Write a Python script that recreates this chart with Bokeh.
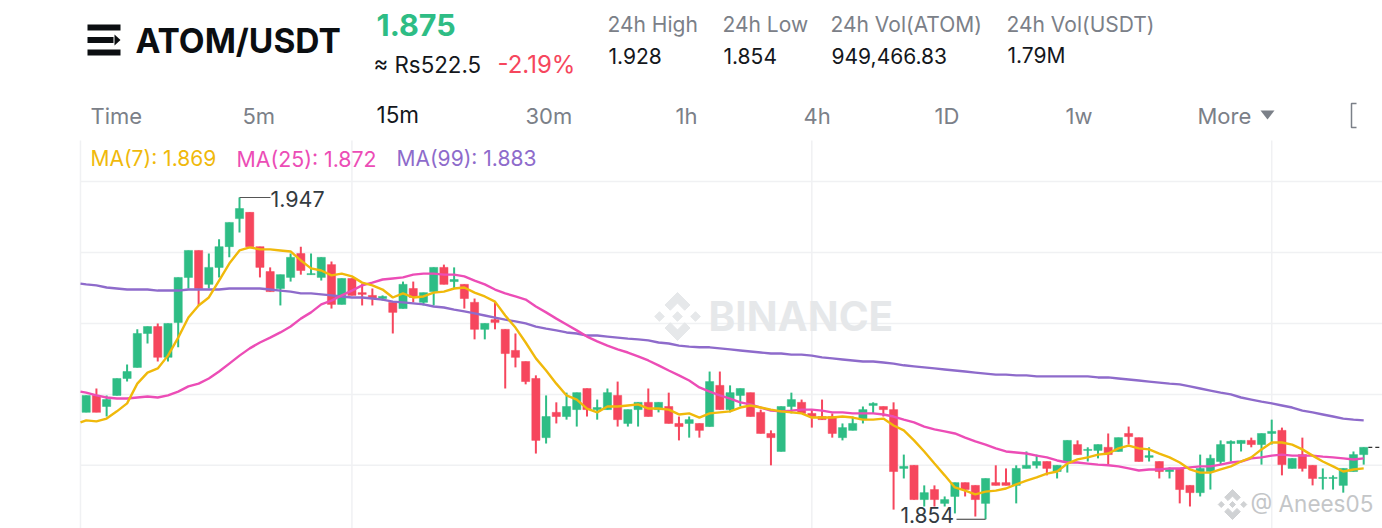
from bokeh.plotting import figure
from bokeh.models import ColumnDataSource, Label, Range1d
from bokeh.embed import file_html
from bokeh.resources import INLINE

# ---------- data ----------
opens = [1.8849,1.8898,1.8866,1.8898,1.8947,1.8979,1.9077,1.9097,1.9008,1.9109,
1.9239,1.9317,1.9219,1.9268,1.9328,1.9409,1.9427,1.9328,1.9256,1.9207,
1.9239,1.9308,1.9247,1.9239,1.9276,1.9161,1.9236,1.9195,1.9187,1.9178,
1.9167,1.9149,1.9207,1.9167,1.9198,1.9268,1.9227,1.9219,1.9167,1.9089,
1.9117,1.9089,1.9028,1.8996,1.8947,1.8776,1.8849,1.8837,1.8857,1.8918,
1.8857,1.8857,1.8898,1.8817,1.8857,1.8878,1.8857,1.8866,1.8817,1.8817,
1.8817,1.8808,1.8927,1.8857,1.8898,1.8906,1.8849,1.8788,1.8736,1.8866,
1.8878,1.8846,1.8837,1.8837,1.8776,1.8797,1.8828,1.8869,1.8866,1.8857,
1.8687,1.8696,1.8597,1.8626,1.8586,1.8606,1.8646,1.8638,1.8586,1.8646,
1.8646,1.8638,1.8687,1.8696,1.8707,1.8678,1.8707,1.8756,1.8739,1.8739,
1.8748,1.8736,1.8788,1.8776,1.8719,1.8707,1.8678,1.8687,1.8638,1.8617,
1.8678,1.8707,1.8759,1.8759,1.8768,1.8756,1.8788,1.8797,1.8687,1.8727,
1.8696,1.8658,1.8658,1.8638,1.8678,1.8727]
highs = [1.8898,1.8918,1.8898,1.8947,1.8987,1.9089,1.9097,1.9106,1.9106,1.9239,
1.9317,1.9317,1.9308,1.9349,1.9398,1.9470,1.9427,1.9328,1.9268,1.9247,
1.9308,1.9328,1.9308,1.9297,1.9285,1.9236,1.9236,1.9221,1.9207,1.9187,
1.9167,1.9227,1.9227,1.9195,1.9268,1.9276,1.9268,1.9219,1.9178,1.9106,
1.9167,1.9089,1.9077,1.8996,1.8956,1.8898,1.8878,1.8906,1.8906,1.8918,
1.8886,1.8918,1.8938,1.8857,1.8878,1.8918,1.8878,1.8906,1.8837,1.8837,
1.8817,1.8967,1.8967,1.8927,1.8918,1.8906,1.8857,1.8797,1.8866,1.8906,
1.8886,1.8857,1.8886,1.8846,1.8817,1.8837,1.8866,1.8878,1.8866,1.8878,
1.8727,1.8696,1.8638,1.8638,1.8606,1.8646,1.8646,1.8638,1.8658,1.8696,
1.8687,1.8696,1.8736,1.8727,1.8707,1.8696,1.8768,1.8768,1.8748,1.8756,
1.8788,1.8776,1.8808,1.8776,1.8748,1.8707,1.8690,1.8687,1.8638,1.8727,
1.8727,1.8768,1.8768,1.8768,1.8776,1.8788,1.8828,1.8805,1.8716,1.8776,
1.8696,1.8687,1.8667,1.8687,1.8736,1.8748]
lows = [1.8849,1.8849,1.8837,1.8898,1.8938,1.8979,1.9048,1.8996,1.8996,1.9037,
1.9207,1.9158,1.9207,1.9239,1.9297,1.9369,1.9328,1.9239,1.9198,1.9158,
1.9227,1.9247,1.9247,1.9230,1.9149,1.9161,1.9187,1.9158,1.9158,1.9172,
1.9077,1.9149,1.9167,1.9158,1.9158,1.9219,1.9207,1.9149,1.9060,1.9060,
1.9089,1.8918,1.8979,1.8930,1.8730,1.8759,1.8817,1.8828,1.8808,1.8837,
1.8828,1.8857,1.8808,1.8808,1.8808,1.8837,1.8849,1.8817,1.8768,1.8776,
1.8776,1.8808,1.8857,1.8849,1.8866,1.8837,1.8788,1.8696,1.8736,1.8846,
1.8846,1.8805,1.8828,1.8776,1.8768,1.8797,1.8817,1.8846,1.8837,1.8568,
1.8658,1.8597,1.8577,1.8577,1.8577,1.8557,1.8606,1.8548,1.8540,1.8638,
1.8638,1.8586,1.8687,1.8687,1.8667,1.8658,1.8675,1.8727,1.8707,1.8716,
1.8698,1.8736,1.8756,1.8707,1.8707,1.8658,1.8658,1.8586,1.8577,1.8606,
1.8626,1.8698,1.8707,1.8736,1.8748,1.8698,1.8756,1.8667,1.8687,1.8678,
1.8638,1.8626,1.8626,1.8617,1.8678,1.8698]
closes = [1.8898,1.8849,1.8886,1.8947,1.8967,1.9077,1.9097,1.9008,1.9106,1.9239,
1.9317,1.9207,1.9268,1.9328,1.9398,1.9438,1.9328,1.9268,1.9198,1.9247,
1.9297,1.9259,1.9250,1.9297,1.9161,1.9236,1.9187,1.9190,1.9178,1.9184,
1.9138,1.9219,1.9181,1.9195,1.9268,1.9219,1.9233,1.9178,1.9089,1.9106,
1.9109,1.9019,1.9008,1.8938,1.8768,1.8837,1.8837,1.8866,1.8906,1.8857,
1.8863,1.8906,1.8828,1.8857,1.8878,1.8837,1.8878,1.8817,1.8808,1.8828,
1.8797,1.8938,1.8857,1.8906,1.8918,1.8837,1.8788,1.8776,1.8866,1.8886,
1.8846,1.8837,1.8828,1.8788,1.8805,1.8817,1.8857,1.8875,1.8857,1.8678,
1.8693,1.8597,1.8617,1.8597,1.8597,1.8646,1.8626,1.8597,1.8658,1.8638,
1.8638,1.8687,1.8696,1.8707,1.8687,1.8696,1.8768,1.8727,1.8742,1.8756,
1.8727,1.8776,1.8779,1.8707,1.8724,1.8678,1.8684,1.8626,1.8617,1.8687,
1.8716,1.8756,1.8765,1.8768,1.8756,1.8788,1.8794,1.8698,1.8716,1.8687,
1.8658,1.8661,1.8661,1.8687,1.8727,1.8748]

ma7 = [1.8820,1.8826,1.8823,1.8831,1.8852,1.8875,1.8932,1.8964,1.8976,1.9013,1.9065,
1.9123,1.9158,1.9181,1.9230,1.9279,1.9317,1.9326,1.9320,1.9320,1.9317,
1.9314,1.9288,1.9265,1.9259,1.9245,1.9250,1.9242,1.9224,1.9216,1.9204,
1.9181,1.9193,1.9181,1.9184,1.9195,1.9198,1.9207,1.9210,1.9195,1.9184,
1.9169,1.9129,1.9094,1.9051,1.9005,1.8970,1.8932,1.8898,1.8886,1.8860,
1.8849,1.8866,1.8866,1.8869,1.8872,1.8860,1.8860,1.8857,1.8843,1.8846,
1.8834,1.8846,1.8849,1.8852,1.8863,1.8869,1.8863,1.8857,1.8852,1.8849,
1.8846,1.8834,1.8834,1.8834,1.8837,1.8834,1.8828,1.8828,1.8831,1.8811,
1.8797,1.8768,1.8736,1.8701,1.8667,1.8632,1.8623,1.8612,1.8620,1.8623,
1.8629,1.8641,1.8652,1.8661,1.8672,1.8678,1.8701,1.8713,1.8719,1.8727,
1.8730,1.8745,1.8753,1.8745,1.8742,1.8730,1.8719,1.8704,1.8684,1.8675,
1.8675,1.8684,1.8693,1.8707,1.8719,1.8742,1.8762,1.8762,1.8756,1.8742,
1.8724,1.8707,1.8693,1.8678,1.8684,1.8687]
ma25 = [1.8909,1.8906,1.8898,1.8892,1.8889,1.8889,1.8892,1.8895,1.8892,1.8898,1.8909,
1.8924,1.8932,1.8947,1.8967,1.8990,1.9013,1.9034,1.9051,1.9065,1.9080,
1.9097,1.9120,1.9138,1.9161,1.9172,1.9187,1.9201,1.9216,1.9224,1.9233,
1.9236,1.9239,1.9247,1.9250,1.9250,1.9247,1.9247,1.9242,1.9230,1.9219,
1.9204,1.9193,1.9184,1.9175,1.9155,1.9138,1.9120,1.9103,1.9086,1.9068,
1.9054,1.9042,1.9031,1.9022,1.9011,1.8999,1.8985,1.8970,1.8956,1.8941,
1.8921,1.8909,1.8898,1.8889,1.8878,1.8872,1.8863,1.8854,1.8852,1.8854,
1.8857,1.8857,1.8854,1.8849,1.8849,1.8846,1.8846,1.8846,1.8843,1.8837,
1.8828,1.8820,1.8808,1.8800,1.8794,1.8788,1.8776,1.8765,1.8756,1.8745,
1.8736,1.8733,1.8730,1.8724,1.8719,1.8710,1.8704,1.8704,1.8701,1.8698,
1.8696,1.8693,1.8687,1.8681,1.8684,1.8684,1.8687,1.8687,1.8690,1.8693,
1.8693,1.8698,1.8704,1.8707,1.8716,1.8719,1.8724,1.8727,1.8724,1.8724,
1.8724,1.8721,1.8719,1.8716,1.8713,1.8716]
ma99 = [1.9221,1.9219,1.9216,1.9210,1.9207,1.9204,1.9204,1.9204,1.9201,1.9201,1.9201,
1.9204,1.9204,1.9204,1.9204,1.9207,1.9207,1.9207,1.9207,1.9204,1.9201,
1.9198,1.9193,1.9193,1.9190,1.9187,1.9184,1.9181,1.9181,1.9178,1.9175,
1.9169,1.9167,1.9164,1.9161,1.9155,1.9152,1.9146,1.9141,1.9135,1.9129,
1.9123,1.9117,1.9112,1.9106,1.9097,1.9091,1.9086,1.9080,1.9077,1.9071,
1.9071,1.9068,1.9065,1.9062,1.9060,1.9057,1.9051,1.9048,1.9042,1.9039,
1.9037,1.9037,1.9034,1.9031,1.9028,1.9025,1.9022,1.9019,1.9019,1.9016,
1.9016,1.9013,1.9008,1.9005,1.9002,1.8999,1.8996,1.8996,1.8993,1.8990,
1.8985,1.8982,1.8979,1.8976,1.8973,1.8970,1.8967,1.8964,1.8961,1.8958,
1.8958,1.8956,1.8956,1.8953,1.8953,1.8953,1.8953,1.8953,1.8953,1.8950,
1.8950,1.8947,1.8944,1.8941,1.8938,1.8935,1.8932,1.8930,1.8924,1.8918,
1.8912,1.8906,1.8901,1.8892,1.8886,1.8880,1.8875,1.8869,1.8863,1.8854,
1.8849,1.8843,1.8837,1.8831,1.8828,1.8826]

grid_prices = [1.9516, 1.9311, 1.9106, 1.8901, 1.8696]
grid_candles = [-0.56, 26, 71, 116]

GREEN, RED = "#2EBD85", "#F6465D"
YELLOW, PINK, PURPLE = "#F0B90B", "#EC4DB6", "#8E6BCB"
GREY, BLACK = "#7B8088", "#14171C"
FONT = "Inter"

# ---------- figure ----------
W, H = 1382, 528
X0, X1 = -8.386, 126.84
Y1, Y0 = 2.00393, 1.85134
p = figure(width=W, height=H, output_backend="svg", toolbar_location=None,
           x_range=Range1d(X0, X1), y_range=Range1d(Y0, Y1), min_border=0,
           outline_line_color=None, background_fill_color="white", border_fill_color="white")
p.axis.visible = False
p.grid.visible = False

def fx(px):
    return X0 + px * (X1 - X0) / W

def fy(py):
    return Y1 - py * (Y1 - Y0) / H

def lab(px, py, text, color=BLACK, size=20, style="normal", align="left", font=FONT):
    p.add_layout(Label(x=fx(px), y=fy(py), text=text, text_color=color, text_font=font,
                       text_font_size=f"{size}px", text_font_style=style,
                       text_align=align, text_baseline="middle"))

# grid
GRID = "#F0F1F3"
p.segment(x0=[fx(80)] * len(grid_prices), x1=[X1] * len(grid_prices), y0=grid_prices, y1=grid_prices,
          line_color=GRID, line_width=1.5)
p.segment(x0=grid_candles, x1=grid_candles, y0=[fy(140)] * len(grid_candles), y1=[Y0] * len(grid_candles),
          line_color=GRID, line_width=1.5)

# binance logo
def logo(cx, cy, r, color, outline=None):
    shapes = [
        [(0, -.2), (.2, 0), (0, .2), (-.2, 0)],
        [(-.75, -.2), (-.55, 0), (-.75, .2), (-.95, 0)],
        [(.75, -.2), (.95, 0), (.75, .2), (.55, 0)],
        [(0, -1), (.52, -.48), (.3, -.26), (0, -.56), (-.3, -.26), (-.52, -.48)],
        [(0, 1), (.52, .48), (.3, .26), (0, .56), (-.3, .26), (-.52, .48)],
    ]
    xs = [[fx(cx + a * r) for a, b in s] for s in shapes]
    ys = [[fy(cy + b * r) for a, b in s] for s in shapes]
    p.patches(xs, ys, fill_color=color, line_color=outline or color, line_width=1)

logo(677, 316, 24, "#E6E8EA")
lab(708, 316, "BINANCE", "#E6E8EA", 40.5, "bold")

# candles
idx = list(range(len(opens)))
colors = [GREEN if c >= o else RED for o, c in zip(opens, closes)]
src = ColumnDataSource(dict(x=idx, o=opens, h=highs, l=lows, c=closes, color=colors,
                            top=[max(o, c) for o, c in zip(opens, closes)],
                            bot=[min(o, c) for o, c in zip(opens, closes)]))
p.segment(x0="x", x1="x", y0="l", y1="h", color="color", line_width=2, source=src)
p.vbar(x="x", width=0.8, top="top", bottom="bot", fill_color="color", line_color="color",
       line_width=0.5, source=src)

# moving averages
ma_x = [-0.56] + idx
p.line(ma_x, ma99, line_color=PURPLE, line_width=2.4)
p.line(ma_x, ma25, line_color=PINK, line_width=2.4)
p.line(ma_x, ma7, line_color=YELLOW, line_width=2.4)

# extremes and last price
p.segment(x0=[15], x1=[fx(270)], y0=[max(highs)], y1=[max(highs)], line_color="#555", line_width=1.2)
p.segment(x0=[88], x1=[fx(956)], y0=[min(lows)], y1=[min(lows)], line_color="#555", line_width=1.2)
p.segment(x0=[125.45], x1=[X1], y0=[closes[-1]], y1=[closes[-1]], line_color="#333",
          line_width=1.2, line_dash="4 3")
lab(270, 198, "1.947", "#333A40", 21.5)
lab(900, 514, "1.854", "#333A40", 21)

# header
p.quad(left=[fx(87), fx(87), fx(87)], right=[fx(120), fx(113), fx(120)],
       top=[fy(24), fy(36.5), fy(49)], bottom=[fy(30), fy(42.5), fy(55)],
       fill_color="#0B0E11", line_color=None)
p.patch([fx(114), fx(120), fx(114)], [fy(34), fy(39.5), fy(45)], fill_color="#0B0E11", line_color=None)
lab(135, 40, "ATOM/USDT", "#0B0E11", 33.5, "bold")
lab(376, 24, "1.875", GREEN, 30.5, "bold")
lab(373, 64, "≈ Rs522.5", BLACK, 22.3)
lab(497, 64, "-2.19%", RED, 24)

for x, head, val in [(607, "24h High", "1.928"), (722, "24h Low", "1.854"),
                     (830, "24h Vol(ATOM)", "949,466.83"), (1006, "24h Vol(USDT)", "1.79M")]:
    lab(x, 24, head, GREY, 21)
    lab(x + 1, 55, val, BLACK, 21)

for x, t in [(90, "Time"), (242, "5m"), (525, "30m"), (675, "1h"), (803, "4h"),
             (934, "1D"), (1065, "1w"), (1197, "More")]:
    lab(x, 115, t, GREY, 22)
lab(376, 114, "15m", BLACK, 22.5)
p.patch([fx(1260), fx(1274), fx(1267)], [fy(110), fy(110), fy(119)], fill_color=GREY, line_color=None)
p.line([fx(1356), fx(1351), fx(1351), fx(1356)], [fy(103), fy(103), fy(127), fy(127)], line_color=GREY, line_width=1.5)

lab(90, 158, "MA(7): 1.869", YELLOW, 21)
lab(236, 158, "MA(25): 1.872", PINK, 21.3)
lab(396, 158, "MA(99): 1.883", PURPLE, 21)

# publisher's watermark
logo(1232, 504, 15, "#D0D2D4")
lab(1250, 503, "@ Anees05", "#C4C6C8", 22.5)

open("out.html", "w").write(file_html(p, INLINE))
